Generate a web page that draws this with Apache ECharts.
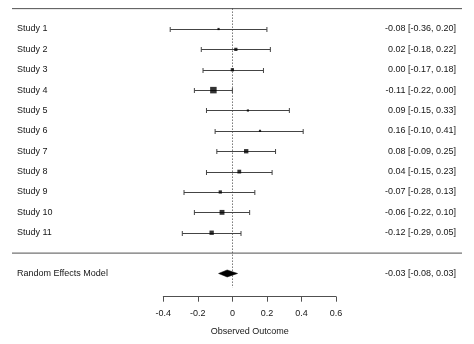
<!DOCTYPE html>
<html>
<head>
<meta charset="utf-8">
<script src="https://cdn.jsdelivr.net/npm/echarts@6/dist/echarts.min.js"></script>
<style>
  html, body { margin: 0; padding: 0; background: #fff; }
  #chart { width: 474px; height: 344px; }
</style>
</head>
<body>
<div id="chart"></div>
<script>
// Study-level effect sizes with 95% confidence limits
const studies   = ['Study 1', 'Study 2', 'Study 3', 'Study 4', 'Study 5', 'Study 6',
                   'Study 7', 'Study 8', 'Study 9', 'Study 10', 'Study 11'];
const estimates = [-0.08, 0.02, 0.00, -0.11, 0.09, 0.16, 0.08, 0.04, -0.07, -0.06, -0.12];
const ciLower   = [-0.36, -0.18, -0.17, -0.22, -0.15, -0.10, -0.09, -0.15, -0.28, -0.22, -0.29];
const ciUpper   = [0.20, 0.22, 0.18, 0.00, 0.33, 0.41, 0.25, 0.23, 0.13, 0.10, 0.05];
// relative study weights (%)
const weights   = [2.9, 6.5, 6.5, 25.8, 2.9, 2.9, 11.5, 8.8, 6.5, 14.5, 11.5];

// pooled estimate
const pooledLabel = 'Random Effects Model';
const pooled = { est: -0.03, lo: -0.08, hi: 0.03 };

const axisTicks = [-0.4, -0.2, 0, 0.2, 0.4, 0.6];
const axisTitle = 'Observed Outcome';

// ---- layout ----
const FONT = '"Liberation Sans", Arial, sans-serif';
const TEXT = '#161616';
const LINE = '#505050';
const MAX_SQUARE = 6.5;       // px, side of the heaviest study's square
const CAP_HALF = 2.5;         // px, half-height of CI end caps
const DIAMOND_HALF = 3.5;     // px
const RULE_LEFT = 12, RULE_RIGHT = 462;  // horizontal rules, page px
const ROW_MAX = 14.14;        // row index where the x axis sits
const REF_END = 13.7;         // row index where the reference line stops

const k = studies.length;
const sepRow = k + 1;
const pooledRow = k + 2;
const fmt = v => v.toFixed(2);
const ciText = (e, l, u) => fmt(e) + ' [' + fmt(l) + ', ' + fmt(u) + ']';

const leftLabels = {}, rightLabels = {};
studies.forEach((s, i) => {
  leftLabels[i + 1] = s;
  rightLabels[i + 1] = ciText(estimates[i], ciLower[i], ciUpper[i]);
});
leftLabels[pooledRow] = pooledLabel;
rightLabels[pooledRow] = ciText(pooled.est, pooled.lo, pooled.hi);

const maxW = Math.max(...weights);
const squareData = estimates.map((e, i) => ({
  value: [e, i + 1],
  symbolSize: Math.max(2.2, MAX_SQUARE * Math.sqrt(weights[i] / maxW))
}));
const ciData = estimates.map((e, i) => [ciLower[i], ciUpper[i], i + 1]);

const chart = echarts.init(document.getElementById('chart'), null, { renderer: 'canvas' });

const labelAxis = (position, labels, align, margin) => ({
  type: 'value',
  position: position,
  inverse: true,
  min: 0,
  max: ROW_MAX,
  interval: 1,
  axisLine: { show: false },
  axisTick: { show: false },
  splitLine: { show: false },
  axisLabel: {
    show: true,
    align: align,
    margin: margin,
    showMinLabel: true,
    showMaxLabel: true,
    color: TEXT,
    fontFamily: FONT,
    fontSize: 9,
    formatter: v => labels[Math.round(v)] !== undefined && Math.abs(v - Math.round(v)) < 1e-6 ? labels[Math.round(v)] : ''
  }
});

chart.setOption({
  animation: false,
  backgroundColor: '#ffffff',
  grid: { left: 163.3, right: 138, top: 8.63, bottom: 47.3, containLabel: false },
  xAxis: {
    type: 'value',
    min: -0.4,
    max: 0.6,
    interval: 0.2,
    position: 'bottom',
    axisLine: { onZero: false, lineStyle: { color: LINE, width: 1 } },
    axisTick: { length: 5, lineStyle: { color: LINE } },
    splitLine: { show: false },
    axisLabel: {
      margin: 12,
      color: TEXT,
      fontFamily: FONT,
      fontSize: 9,
      formatter: v => {
        const t = axisTicks.find(x => Math.abs(x - v) < 1e-9);
        return t === undefined ? '' : String(t);
      }
    },
    name: axisTitle,
    nameLocation: 'middle',
    nameGap: 30,
    nameTextStyle: { color: TEXT, fontFamily: FONT, fontSize: 9 }
  },
  yAxis: [
    labelAxis('left', leftLabels, 'left', 163.3 - 17),
    labelAxis('right', rightLabels, 'right', 456 - 336)
  ],
  series: [
    {
      // horizontal rules above the studies and above the pooled row
      type: 'custom',
      clip: false,
      silent: true,
      data: [[0], [sepRow]],
      renderItem: (params, api) => {
        const y = api.coord([0, api.value(0)])[1];
        return {
          type: 'line',
          shape: { x1: RULE_LEFT, y1: y, x2: RULE_RIGHT, y2: y },
          style: { stroke: LINE, lineWidth: 1 }
        };
      }
    },
    {
      // dotted reference line at zero
      type: 'custom',
      clip: false,
      silent: true,
      data: [[0, 0, REF_END]],
      renderItem: (params, api) => {
        const a = api.coord([api.value(0), api.value(1)]);
        const b = api.coord([api.value(0), api.value(2)]);
        return {
          type: 'line',
          shape: { x1: Math.round(a[0]) + 0.5, y1: a[1], x2: Math.round(b[0]) + 0.5, y2: b[1] },
          style: { stroke: '#333', lineWidth: 1, lineDash: [1, 2] }
        };
      }
    },
    {
      // confidence intervals with end caps
      type: 'custom',
      clip: false,
      silent: true,
      data: ciData,
      renderItem: (params, api) => {
        const a = api.coord([api.value(0), api.value(2)]);
        const b = api.coord([api.value(1), api.value(2)]);
        const y = Math.round(a[1]) + 0.5;
        const st = { stroke: '#444', lineWidth: 1 };
        return {
          type: 'group',
          children: [
            { type: 'line', shape: { x1: a[0], y1: y, x2: b[0], y2: y }, style: st },
            { type: 'line', shape: { x1: a[0], y1: y - CAP_HALF, x2: a[0], y2: y + CAP_HALF }, style: st },
            { type: 'line', shape: { x1: b[0], y1: y - CAP_HALF, x2: b[0], y2: y + CAP_HALF }, style: st }
          ]
        };
      }
    },
    {
      // point estimates sized by weight
      type: 'scatter',
      symbol: 'rect',
      silent: true,
      itemStyle: { color: '#000' },
      data: squareData,
      z: 5
    },
    {
      // pooled estimate diamond
      type: 'custom',
      clip: false,
      silent: true,
      data: [[pooled.lo, pooled.est, pooled.hi, pooledRow]],
      renderItem: (params, api) => {
        const row = api.value(3);
        const l = api.coord([api.value(0), row]);
        const m = api.coord([api.value(1), row]);
        const r = api.coord([api.value(2), row]);
        return {
          type: 'polygon',
          shape: { points: [[l[0], l[1]], [m[0], m[1] - DIAMOND_HALF], [r[0], r[1]], [m[0], m[1] + DIAMOND_HALF]] },
          style: { fill: '#000', stroke: '#000', lineWidth: 0.5 }
        };
      },
      z: 5
    }
  ]
});
</script>
</body>
</html>
